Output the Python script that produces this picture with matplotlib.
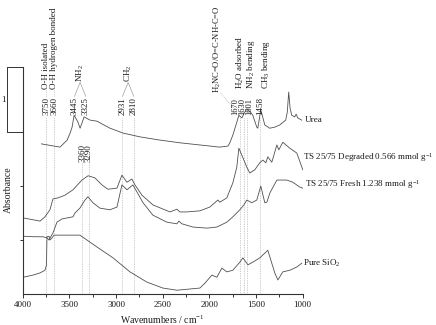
import matplotlib
matplotlib.use("Agg")
import matplotlib.pyplot as plt

plt.rcParams['font.family'] = ['Liberation Serif', 'DejaVu Serif']
plt.rcParams['mathtext.default'] = 'regular'

# ---------------- data (wavenumber, absorbance, offset included) ----------------
urea_w = [3800, 3600, 3524, 3492, 3471, 3449, 3410, 3385, 3360, 3342, 3300, 3278, 3203, 3130,
          3064, 2925, 2743, 2529, 2316, 2102, 1888, 1800, 1781, 1749, 1715, 1684, 1652, 1620,
          1599, 1560, 1535, 1492, 1481, 1449, 1406, 1353, 1300, 1246, 1182, 1165, 1150, 1135,
          1118, 1086, 1070, 1053, 1011]
urea_a = [2.78, 2.72, 2.85, 2.98, 3.09, 3.31, 3.19, 3.07, 3.19, 3.28, 3.24, 3.22, 3.20, 3.13,
          3.07, 2.98, 2.91, 2.85, 2.80, 2.76, 2.72, 2.74, 2.80, 2.94, 3.13, 3.31, 3.26, 3.37,
          3.43, 3.37, 3.31, 3.09, 3.07, 3.41, 3.13, 3.07, 3.09, 3.13, 3.22, 3.37, 3.74, 3.44,
          3.31, 3.28, 3.33, 3.26, 3.22]

degr_w = [3997, 3815, 3761, 3708, 3676, 3622, 3547, 3461, 3365, 3299, 3226, 3151, 3087, 2990,
          2937, 2883, 2830, 2797, 2722, 2605, 2423, 2348, 2316, 2241, 2102, 1995, 1909, 1888,
          1813, 1748, 1706, 1684, 1652, 1599, 1567, 1513, 1460, 1427, 1395, 1374, 1331, 1277,
          1256, 1213, 1138, 1063, 999]
degr_a = [1.41, 1.35, 1.43, 1.56, 1.76, 1.78, 1.83, 1.93, 2.11, 2.19, 2.15, 2.02, 1.94, 1.96,
          2.20, 2.07, 2.13, 2.02, 1.83, 1.65, 1.52, 1.57, 1.52, 1.52, 1.54, 1.61, 1.74, 1.70,
          1.78, 2.06, 2.35, 2.70, 2.57, 2.35, 2.24, 2.30, 2.43, 2.48, 2.43, 2.54, 2.44, 2.76,
          2.67, 2.81, 2.70, 2.61, 2.30]

fresh_w = [3997, 3868, 3783, 3740, 3718, 3697, 3676, 3633, 3579, 3461, 3440, 3387, 3333, 3301,
           3247, 3173, 3065, 2990, 2937, 2883, 2819, 2776, 2711, 2605, 2455, 2348, 2327, 2294,
           2176, 2026, 1920, 1813, 1748, 1673, 1630, 1599, 1545, 1492, 1449, 1406, 1384, 1352,
           1277, 1224, 1170, 1106, 1031, 999]
fresh_a = [1.07, 1.06, 1.06, 1.04, 1.00, 1.07, 1.13, 1.33, 1.39, 1.43, 1.50, 1.59, 1.74, 1.80,
           1.69, 1.59, 1.56, 1.61, 2.02, 1.93, 2.02, 1.89, 1.69, 1.46, 1.33, 1.30, 1.35, 1.30,
           1.24, 1.22, 1.24, 1.33, 1.43, 1.56, 1.65, 1.74, 1.69, 1.74, 2.00, 1.69, 1.70, 1.87,
           2.11, 2.11, 2.11, 2.07, 1.98, 1.96]

sio2_w = [3997, 3890, 3815, 3761, 3745, 3740, 3718, 3708, 3686, 3665, 3601, 3387, 3204, 3033,
          2851, 2669, 2498, 2348, 2102, 2048, 1973, 1920, 1866, 1813, 1748, 1673, 1641, 1587,
          1534, 1459, 1374, 1299, 1266, 1213, 1138, 1063, 1010]
sio2_a = [0.31, 0.35, 0.39, 0.44, 0.54, 1.06, 1.07, 1.00, 1.04, 1.09, 1.09, 1.09, 0.87, 0.67,
          0.41, 0.22, 0.11, 0.07, 0.11, 0.20, 0.35, 0.31, 0.48, 0.41, 0.44, 0.59, 0.67, 0.54,
          0.59, 0.67, 0.81, 0.39, 0.26, 0.41, 0.44, 0.50, 0.57]

series_names = ['Urea', 'TS 25/75 Degraded 0.566 mmol g$^{-1}$',
                'TS 25/75 Fresh 1.238 mmol g$^{-1}$', 'Pure SiO$_2$']

# marked band positions (dotted guide lines)
guide_top = [3750, 3660, 2931, 2810, 1670, 1630, 1601, 1458]
guide_mid = [3360, 3290]
x_ticks = [4000, 3500, 3000, 2500, 2000, 1500, 1000]

# ---------------- figure ----------------
fig = plt.figure(figsize=(4.36, 3.25), dpi=100)
ax = fig.add_axes([22.7 / 436, 31 / 325, 280 / 436, 294 / 325])
ax.patch.set_visible(False)
ax.set_xlim(4000, 1000)
ax.set_ylim(0, 294 / 54)

curve_col = '#505050'
guide_col = '#a0a0a0'
txt_col = '#1a1a1a'
fs = 6.5
dot = (0, (1, 1.5))

for w in guide_top:
    ax.plot([w, w], [0, 3.28], color=guide_col, lw=0.5, ls=dot)
for w in guide_mid:
    ax.plot([w, w], [0, 2.42], color=guide_col, lw=0.5, ls=dot)

for w, a in [(urea_w, urea_a), (degr_w, degr_a), (fresh_w, fresh_a), (sio2_w, sio2_a)]:
    ax.plot(w, a, color=curve_col, lw=0.6)

# series labels at right
label_y = [urea_a[-1] + 0.0, 2.52, 2.02, sio2_a[-1]]
label_x = [975, 1000, 980, 1000]
for name, lx, ly in zip(series_names, label_x, label_y):
    ax.text(lx, ly, name, fontsize=fs, color=txt_col, ha='left', va='center', clip_on=False)

# number labels (text positions slightly spread where bands crowd together)
num_bottom = 3.31
top_numbers = [3750, 3660, 3445, 3325, 2931, 2810, 1458]
for w in top_numbers:
    ax.text(w, num_bottom, str(w), rotation=90, fontsize=fs, color=txt_col,
            ha='center', va='bottom')
for w, wx in [(1670, 1718), (1630, 1648), (1601, 1577)]:
    ax.text(wx, num_bottom, str(w), rotation=90, fontsize=6.0, color=txt_col,
            ha='center', va='bottom')
for w in guide_mid:
    ax.text(w, 2.44, str(w), rotation=90, fontsize=fs, color=txt_col, ha='center', va='bottom')

# band assignments
name_bottom = 3.80
single = [(3750, 'O-H isolated'), (3660, 'O-H hydrogen bonded'),
          (1672, 'H$_2$O adsorbed'), (1553, 'NH$_2$ bending'), (1395, 'CH$_3$ bending')]
for w, s in single:
    ax.text(w, name_bottom, s, rotation=90, fontsize=fs, color=txt_col, ha='center', va='bottom')
for w in [3750, 3660]:
    ax.plot([w, w], [3.66, 3.79], color=guide_col, lw=0.5, ls=dot)

pairs = [((3445, 3325), 3385, 'NH$_2$'), ((2931, 2810), 2870, 'CH$_2$')]
for (w1, w2), wc, s in pairs:
    ax.text(wc, 3.93, s, rotation=90, fontsize=fs, color=txt_col, ha='center', va='bottom')
    ax.plot([w1, wc, w2], [3.66, 3.92, 3.66], color=guide_col, lw=0.5)

ax.text(1909, 3.72, 'H$_2$NC=O/O=C-NH-C=O', rotation=90, fontsize=6.1, color=txt_col,
        ha='center', va='bottom')
ax.plot([1880, 1725], [3.72, 3.42], color=guide_col, lw=0.5, ls=dot)

# axes styling
for sp in ['top', 'right']:
    ax.spines[sp].set_visible(False)
ax.spines['left'].set_bounds(0, 4.2)
for sp in ['left', 'bottom']:
    ax.spines[sp].set_linewidth(0.8)
    ax.spines[sp].set_color('#333333')
ax.set_xticks(x_ticks)
ax.set_xticks(range(3750, 1000, -500), minor=True)
ax.set_yticks([1, 2, 3])
ax.set_yticklabels([])
ax.tick_params(axis='x', which='major', direction='out', length=3, width=0.7,
               labelsize=fs, pad=2, colors='#333333', labelcolor=txt_col)
ax.tick_params(axis='x', which='minor', direction='out', length=2, width=0.7, colors='#333333')
ax.tick_params(axis='y', direction='out', length=2.5, width=0.7, colors='#333333')

ax.set_xlabel('Wavenumbers / cm$^{-1}$', fontsize=7, color=txt_col, labelpad=3)
ax.set_ylabel('Absorbance', fontsize=7, color=txt_col)
ax.yaxis.set_label_coords(-0.035, (294 - 190) / 294)

# scale bracket
tr = ax.get_yaxis_transform()
ax.plot([0, -0.056, -0.056, 0], [4.2, 4.2, 3.0, 3.0], transform=tr, color='#333333',
        lw=0.7, clip_on=False)
ax.text(-0.069, 3.6, '1', transform=tr, fontsize=fs, color=txt_col, ha='center', va='center')

fig.savefig('out.png', dpi=100)
